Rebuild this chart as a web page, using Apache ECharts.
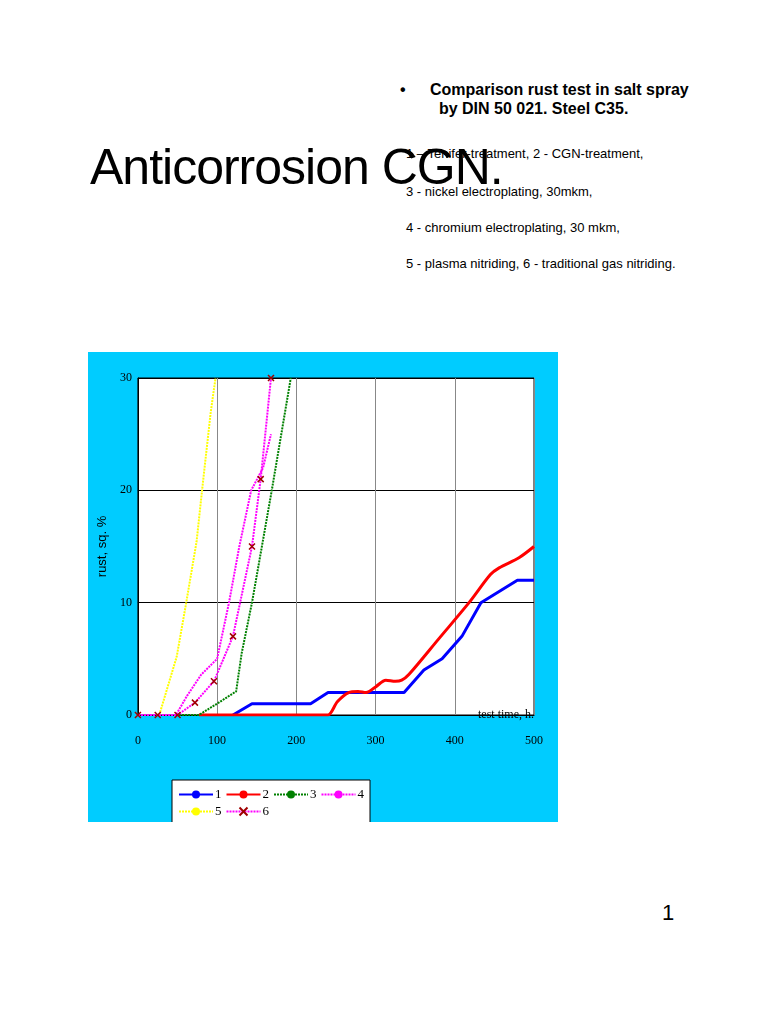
<!DOCTYPE html>
<html>
<head>
<meta charset="utf-8">
<script src="https://cdn.jsdelivr.net/npm/echarts@6/dist/echarts.min.js"></script>
<style>
  body { margin: 0; width: 768px; height: 1024px; background: #fff; position: relative; font-family: "Liberation Sans Narrow", "Liberation Sans", sans-serif; }
  .abs { position: absolute; color: #000; }
  #title { left: 90px; top: 138px; font-size: 50px; letter-spacing: -1px; }
  #bullet { left: 404px; top: 80px; width: 290px; font-size: 16px; font-weight: bold; line-height: 19px; }
  #bullet span { position: absolute; left: -4px; }
  .note { left: 406px; font-size: 13px; }
  #page { left: 662px; top: 900px; font-size: 22px; }
  #chart { position: absolute; left: 88px; top: 352px; width: 470px; height: 470px; }
</style>
</head>
<body>
<div id="title" class="abs">Anticorrosion CGN.</div>
<div id="bullet" class="abs"><span>•</span><div style="margin-left:26px">Comparison rust test in salt spray &nbsp; by DIN 50 021. Steel C35.</div></div>
<div class="abs note" style="top:146px">1 – Tenifer-treatment, 2 - CGN-treatment,</div>
<div class="abs note" style="top:184px">3 - nickel electroplating, 30mkm,</div>
<div class="abs note" style="top:220px">4 - chromium electroplating, 30 mkm,</div>
<div class="abs note" style="top:256px">5 - plasma nitriding, 6 - traditional gas nitriding.</div>
<div id="page" class="abs">1</div>
<div id="chart"></div>
<script>
// test time, h. / rust, sq. %
const s1 = [[120, 0], [144, 1], [218, 1], [240, 2], [336, 2], [361, 4], [384, 5], [409, 7], [433, 10], [479, 12], [500, 12]];
const s2 = [[77, 0], [232, 0], [240, 0], [252, 1.2], [266, 2], [278, 2.1], [288, 2], [300, 2.5], [313, 3.1], [325, 3], [333, 3.1], [342, 3.6], [380, 6.8], [418, 10], [445, 12.5], [456, 13.1], [481, 14], [500, 15]];
const s3 = [[52, 0], [77, 0], [102, 1.1], [124, 2.1], [131, 5.5], [144, 10], [169, 20], [193, 30]];
const s4 = [[0, 0], [48, 0], [62, 1.7], [80, 3.6], [100, 5], [115, 10], [128, 15], [143, 20], [158, 22], [168, 25]];
const s5 = [[27, 0], [49, 5.2], [61, 10], [74, 15.4], [81, 20], [92, 27], [98, 30]];
const s6 = [[0, 0], [25, 0], [50, 0], [72, 1.1], [96, 3], [120, 7], [144, 15], [155, 21], [168, 30]];
const xTicks = [0, 100, 200, 300, 400, 500];
const yTicks = [0, 10, 20, 30];

const cross = 'path://M0,0L10,10M10,0L0,10';
const chart = echarts.init(document.getElementById('chart'));
const dotted = (name, data, color) => ({
  name, type: 'line', data, symbol: 'none',
  lineStyle: { color, width: 2, type: [2, 1] }, itemStyle: { color }
});
chart.setOption({
  backgroundColor: '#00CCFF',
  animation: false,
  textStyle: { fontFamily: 'Liberation Sans Narrow' },
  grid: { left: 49, top: 26, right: 24, bottom: 107, show: true, backgroundColor: '#fff', borderColor: '#000', borderWidth: 1 },
  legend: {
    left: 84, top: 428, width: 220, itemGap: 4, itemWidth: 34, itemHeight: 10,
    backgroundColor: '#fff', borderColor: '#000', borderWidth: 1, padding: [8, 6],
    textStyle: { fontSize: 13, color: '#000', padding: [0, 0, 0, -3] },
    data: ['1', '2', '3', '4', '5', '6']
  },
  xAxis: {
    type: 'value', min: 0, max: 500, interval: 100,
    name: 'test time, h.', nameLocation: 'end', nameGap: 0,
    nameTextStyle: { fontSize: 12, color: '#000', padding: [60, 0, 0, -60], align: 'right' },
    axisLine: { lineStyle: { color: '#000' } }, axisTick: { show: false },
    axisLabel: { color: '#000', fontSize: 12, margin: 20, formatter: v => xTicks.includes(v) ? v : '' },
    splitLine: { lineStyle: { color: '#888', width: 1 } }
  },
  yAxis: {
    type: 'value', min: 0, max: 30, interval: 10,
    name: 'rust, sq. %', nameLocation: 'middle', nameGap: 26, nameRotate: 90,
    nameTextStyle: { fontSize: 13, color: '#000', fontFamily: 'Liberation Sans' },
    axisLine: { lineStyle: { color: '#000' } }, axisTick: { show: false },
    axisLabel: { color: '#000', fontSize: 12, margin: 6, formatter: v => yTicks.includes(v) ? v : '' },
    splitLine: { lineStyle: { color: '#000', width: 1 } }
  },
  series: [
    { name: '1', type: 'line', data: s1, symbol: 'none', lineStyle: { color: '#0000FF', width: 3 }, itemStyle: { color: '#0000FF' } },
    { name: '2', type: 'line', data: s2, symbol: 'none', smooth: 0.3, lineStyle: { color: '#FF0000', width: 3 }, itemStyle: { color: '#FF0000' } },
    dotted('3', s3, '#008000'),
    dotted('4', s4, '#FF00FF'),
    dotted('5', s5, '#FFFF00'),
    { name: '6', type: 'line', data: s6, symbol: cross, symbolSize: 6,
      lineStyle: { color: '#FF00FF', width: 2, type: [2, 1] },
      itemStyle: { color: '#FF00FF', borderColor: '#A00000', borderWidth: 1.5 } }
  ]
});
</script>
</body>
</html>
